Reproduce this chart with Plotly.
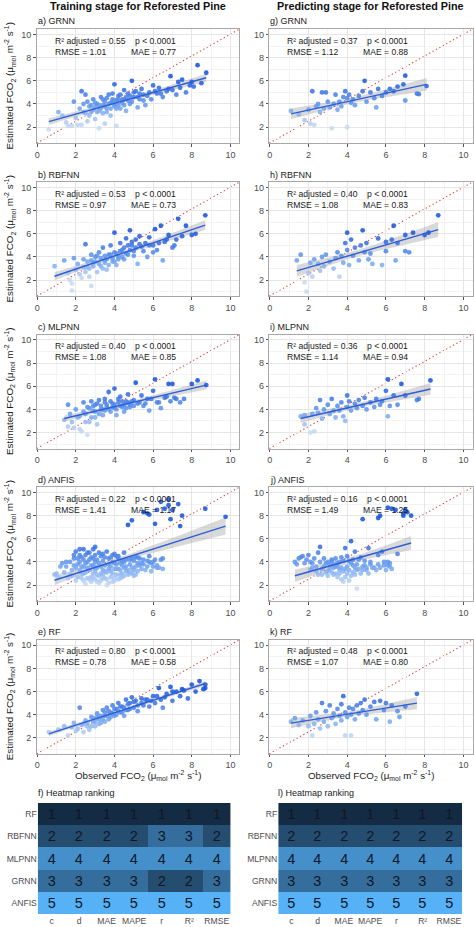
import numpy as np
import plotly.graph_objects as go

# ---------------- DATA ----------------
models = ["GRNN", "RBFNN", "MLPNN", "ANFIS", "RF"]
train_letters = ["a", "b", "c", "d", "e"]
pred_letters = ["g", "h", "i", "j", "k"]

# Observed (x) / Estimated (y) values
grnn_train_x = [0.6,1.1,1.3,1.5,1.6,1.8,1.9,2.0,2.1,2.2,2.3,2.3,2.4,2.5,2.6,2.7,2.8,2.9,3.0,3.0,3.1,3.2,3.2,3.3,3.4,3.5,3.5,3.6,3.7,3.8,3.8,3.9,4.0,4.0,4.1,4.1,4.2,4.3,4.4,4.5,4.5,4.6,4.7,4.8,4.9,5.0,5.1,5.2,5.3,5.4,5.5,5.6,5.8,5.9,6.0,6.2,6.3,6.5,6.7,6.9,7.0,7.2,7.3,7.5,7.7,7.9,8.1,8.3,8.5,8.75]
grnn_train_y = [1.8,3.3,3.0,2.4,2.1,2.1,4.2,2.8,2.2,3.6,5.1,2.2,3.3,4.8,2.5,3.8,3.3,4.4,3.7,2.7,4.0,1.9,3.4,4.6,3.9,2.3,4.2,3.6,4.8,4.1,3.0,4.4,5.7,3.8,2.1,4.3,4.7,3.6,4.1,5.2,4.4,3.4,4.9,4.0,6.0,4.6,5.1,3.7,4.4,5.3,4.8,3.9,5.0,4.4,5.6,4.9,5.4,4.6,5.1,6.4,5.2,4.8,5.9,6.1,5.0,5.6,5.5,7.35,5.8,6.7]
grnn_train_more = [(2.4,4.0),(2.5,3.2),(2.6,4.2),(2.7,3.0),(2.8,3.9),(2.9,3.5),(3.0,4.1),(3.1,3.3),(3.2,3.9),(3.3,3.6),(3.4,4.4),(3.4,3.2),(3.5,3.8),(3.6,4.5),(3.6,3.3),(3.7,4.0),(3.8,3.6),(3.9,4.2),(3.9,4.9),(4.0,4.0),(4.1,3.6),(4.2,4.4),(4.2,3.9),(4.3,4.8),(4.4,4.4),(4.5,3.9),(4.6,4.6),(4.7,4.3),(4.8,4.7),(4.9,4.2),(5.0,5.0),(5.2,4.6),(5.3,4.9),(5.5,4.3),(5.7,4.7),(6.1,5.1),(6.4,4.9),(6.8,5.3),(7.4,5.4),(8.0,5.9)]

grnn_pred_x = [1.1,1.5,1.8,2.0,2.1,2.2,2.3,2.4,2.5,2.6,2.7,2.8,2.9,3.0,3.1,3.2,3.3,3.4,3.5,3.6,3.7,3.8,3.9,4.0,4.0,4.1,4.2,4.3,4.4,4.6,4.8,4.9,5.0,5.2,5.4,5.5,5.6,5.8,6.0,6.2,6.4,6.6,6.9,7.0,7.0,7.6,7.7,8.1]
grnn_pred_y = [3.4,3.1,2.6,3.5,2.3,5.1,2.2,3.8,4.0,3.3,5.0,3.6,5.0,4.2,3.7,1.9,4.0,4.8,3.5,4.2,3.8,4.6,5.1,4.5,2.0,4.8,4.1,4.4,3.9,4.7,5.1,6.0,4.2,5.0,4.5,3.7,5.3,4.7,5.0,5.3,5.1,5.5,5.7,6.45,4.3,4.9,4.85,5.55]
grnn_pred_more = []

rbf_train_x = [0.9,1.4,1.6,1.7,1.8,1.8,1.9,2.0,2.1,2.2,2.3,2.4,2.5,2.6,2.7,2.8,2.8,2.9,3.0,3.1,3.2,3.3,3.4,3.5,3.6,3.7,3.8,3.9,4.0,4.0,4.1,4.2,4.3,4.4,4.5,4.6,4.7,4.8,4.9,5.0,5.1,5.2,5.3,5.4,5.6,5.7,5.8,6.0,6.1,6.2,6.4,6.5,6.6,6.8,7.0,7.2,7.3,7.5,7.7,8.0,8.2,8.7]
rbf_train_y = [3.2,3.7,2.6,2.0,1.7,1.1,3.9,2.9,3.4,2.5,2.2,3.8,5.1,3.1,2.3,1.5,4.2,3.5,4.0,2.7,4.4,3.2,4.8,3.7,2.9,4.2,5.0,3.6,6.1,4.4,3.3,4.0,5.2,4.6,3.8,5.6,4.2,6.3,5.0,4.5,5.5,3.4,5.8,4.9,5.2,4.0,5.7,5.0,6.4,4.6,6.7,3.7,5.3,5.9,4.8,5.5,7.3,5.8,6.7,5.9,6.0,7.6]
rbf_train_more = [(2.4,3.1),(2.5,2.7),(2.6,3.6),(2.7,3.0),(2.8,3.7),(2.9,3.2),(3.0,3.6),(3.1,4.1),(3.2,3.4),(3.3,3.9),(3.4,3.0),(3.5,4.1),(3.5,3.5),(3.6,3.8),(3.7,3.3),(3.8,4.2),(3.9,3.9),(4.0,3.6),(4.1,4.3),(4.2,3.8),(4.3,4.5),(4.4,4.0),(4.5,4.8),(4.6,4.3),(4.7,5.0),(4.8,4.6),(4.9,5.3),(5.0,4.1),(5.1,4.8),(5.3,5.1),(5.5,4.5),(5.8,5.0),(6.0,4.4),(6.3,5.2),(6.7,5.5),(7.1,5.0)]

rbf_pred_x = [1.4,1.6,1.8,1.9,2.0,2.1,2.2,2.3,2.5,2.6,2.7,2.8,2.9,3.1,3.3,3.4,3.5,3.6,3.7,3.8,3.9,4.0,4.0,4.1,4.2,4.3,4.4,4.6,4.7,4.8,4.9,5.0,5.1,5.2,5.3,5.6,5.8,6.0,6.0,6.3,6.4,6.5,6.6,7.0,7.0,7.2,7.4,8.0,8.2,8.7]
rbf_pred_y = [3.7,4.2,1.8,1.0,2.6,3.5,2.3,3.8,3.4,2.8,4.0,3.2,4.2,3.6,3.0,3.9,4.4,2.3,4.1,3.5,5.2,6.1,4.6,3.3,5.5,4.1,4.8,3.7,5.0,6.3,4.4,5.2,3.8,4.3,3.4,5.6,3.3,4.5,5.3,5.5,6.7,3.7,5.2,4.5,5.9,4.4,6.1,5.9,6.1,7.6]
rbf_pred_more = []

mlp_train_x = [1.4,1.6,1.6,1.7,1.8,1.9,2.0,2.1,2.2,2.3,2.4,2.5,2.6,2.6,2.7,2.8,2.9,3.0,3.0,3.1,3.2,3.3,3.4,3.5,3.6,3.7,3.8,3.9,4.0,4.0,4.1,4.2,4.3,4.4,4.5,4.6,4.7,4.8,5.0,5.1,5.2,5.4,5.5,5.7,5.8,6.0,6.1,6.2,6.4,6.6,6.8,6.9,7.0,7.2,7.4,7.6,8.0,8.3,8.75]
mlp_train_y = [3.1,4.4,2.5,3.6,2.9,2.4,4.0,3.3,2.3,2.1,4.6,3.6,1.8,4.2,2.9,4.7,3.9,3.3,4.4,2.7,4.8,4.0,3.5,4.6,4.2,5.5,3.8,4.5,5.8,4.1,3.5,4.6,5.1,4.2,3.8,4.7,5.3,4.4,4.8,6.3,4.5,5.2,4.3,4.9,3.9,5.6,6.6,4.6,4.1,5.0,6.2,4.7,6.2,4.9,4.6,4.9,6.2,6.5,6.1]
mlp_train_more = [(2.2,3.4),(2.4,3.8),(2.5,2.9),(2.7,4.1),(2.8,3.3),(2.9,4.3),(3.0,3.8),(3.1,4.5),(3.2,3.6),(3.3,4.3),(3.4,4.0),(3.5,3.9),(3.5,4.9),(3.6,4.4),(3.7,4.0),(3.8,4.7),(3.9,4.2),(4.0,4.4),(4.1,4.0),(4.2,4.9),(4.3,4.3),(4.4,4.7),(4.5,4.4),(4.6,4.1),(4.7,4.6),(4.8,4.2),(4.9,4.7),(5.0,4.3),(5.3,4.6),(5.6,4.5),(5.9,4.9),(6.3,4.6),(6.7,5.1),(7.1,5.0)]

mlp_pred_x = [1.6,1.8,1.8,2.1,2.3,2.2,2.4,2.5,2.6,2.7,2.8,3.0,3.1,3.2,3.3,3.4,3.5,3.6,3.7,3.8,3.9,4.0,4.0,4.1,4.2,4.4,4.5,4.6,4.8,4.9,5.0,5.2,5.4,5.5,5.7,5.8,6.0,6.1,6.1,6.2,6.4,6.6,6.8,7.0,7.6,7.7,8.3]
mlp_pred_y = [3.4,3.5,2.7,2.0,2.1,3.6,4.1,3.7,4.8,3.2,4.0,4.4,3.6,4.9,3.9,3.3,4.3,3.9,4.6,3.4,3.0,5.2,4.2,4.7,3.9,4.5,4.1,4.8,4.3,5.0,4.0,4.6,4.2,4.9,4.4,4.7,5.6,6.6,3.4,4.3,5.2,4.4,6.2,5.2,4.8,4.9,6.5]
mlp_pred_more = []

anfis_train_x = [4.7,4.9,5.5,5.7,5.8,6.1,6.2,6.4,6.6,6.8,6.8,6.9,7.0,7.3,7.4,7.5,8.7,9.75,
                 0.9,1.2,1.5,1.6,1.8,1.9,2.0,2.1,2.2,2.3,2.4,2.5,2.6,2.7,2.8,2.9,3.0,3.0,3.1,3.2,3.3,3.4,3.5,3.6,3.7,3.8,3.9,4.0,4.0,4.1,4.2,4.3,4.4,4.5,4.6,4.8,4.9,5.0,5.1,5.2,5.4,5.5,5.7,5.8,5.9,6.0,6.2,6.4,6.5]
anfis_train_y = [7.2,7.6,8.3,8.2,8.1,7.3,8.5,9.2,8.6,8.9,9.4,7.7,8.5,9.0,7.1,8.0,8.6,7.9,
                 2.9,3.6,4.0,2.6,3.3,4.3,2.4,3.8,4.6,3.0,5.1,2.1,3.5,4.2,2.7,5.1,3.2,4.0,2.3,4.8,3.6,2.9,4.4,2.0,3.8,3.2,4.6,2.6,3.9,3.4,4.3,2.9,3.7,4.8,3.2,4.2,3.5,2.8,4.4,3.9,3.4,4.2,3.6,4.5,3.2,4.0,3.7,4.2,3.4]
anfis_train_more = [(1.0,3.0),(1.1,2.7),(1.3,3.9),(1.4,3.1),(1.5,3.6),(1.7,4.0),(1.7,2.9),(1.8,2.8),(1.9,3.7),(1.9,4.6),
    (2.0,3.5),(2.0,4.9),(2.1,2.7),(2.1,4.3),(2.2,3.3),(2.2,4.0),(2.2,5.1),(2.3,4.4),(2.3,3.6),(2.3,2.6),(2.4,3.6),(2.4,2.4),(2.4,4.2),(2.4,3.0),
    (2.5,4.6),(2.5,3.1),(2.5,3.9),(2.6,2.6),(2.6,4.0),(2.6,4.8),(2.7,3.3),(2.7,4.8),(2.7,2.5),(2.8,3.7),(2.8,2.3),(2.8,4.4),(2.9,4.3),(2.9,3.0),(2.9,2.6),(2.9,3.7),
    (3.0,2.5),(3.0,4.6),(3.0,5.3),(3.0,3.5),(3.1,3.5),(3.1,4.2),(3.1,2.9),(3.2,2.8),(3.2,3.9),(3.2,2.2),(3.3,4.5),(3.3,2.4),(3.3,3.0),(3.4,3.3),(3.4,4.1),(3.4,2.6),(3.4,4.7),
    (3.5,2.6),(3.5,3.7),(3.5,3.2),(3.6,4.9),(3.6,3.1),(3.6,2.5),(3.7,2.2),(3.7,4.3),(3.7,3.4),(3.8,3.6),(3.8,2.7),(3.8,4.4),(3.9,4.0),(3.9,3.0),(3.9,2.3),
    (4.0,4.7),(4.0,2.4),(4.0,3.4),(4.1,3.8),(4.1,2.9),(4.1,4.5),(4.2,3.4),(4.2,4.5),(4.2,2.5),(4.3,3.9),(4.3,2.6),(4.3,3.3),(4.4,4.1),(4.4,3.0),(4.4,2.7),
    (4.5,3.5),(4.5,2.8),(4.5,4.0),(4.6,4.2),(4.6,3.6),(4.7,3.3),(4.7,2.9),(4.8,3.8),(4.8,3.1),(4.9,3.0),(4.9,4.3),
    (5.0,4.1),(5.0,3.3),(5.1,3.6),(5.1,2.9),(5.2,3.2),(5.2,4.4),(5.3,4.3),(5.3,3.7),(5.4,3.9),
    (5.5,3.8),(5.6,3.3),(5.7,4.1),(5.8,4.0),(5.9,3.9),(6.0,3.6),(6.1,4.2),(6.2,3.5),(6.3,3.5),(6.5,4.3)]

anfis_pred_x = [4.8,5.6,5.7,6.1,6.3,6.5,6.9,6.9,7.0,7.1,7.3,
                1.4,1.6,1.7,1.9,2.1,2.2,2.4,2.5,2.6,2.7,2.8,3.0,3.1,3.2,3.3,3.4,3.5,3.6,3.7,3.8,3.9,4.0,4.1,4.2,4.2,4.3,4.4,4.5,4.5,4.6,4.8,4.9,5.0,5.1,5.2,5.4,5.6,5.8,5.9,6.1,6.2,6.6]
anfis_pred_y = [7.7,7.8,8.0,8.7,8.6,8.5,8.0,8.2,8.5,8.3,8.0,
                3.8,4.4,4.5,4.2,3.3,3.9,3.2,4.8,5.3,2.9,3.6,3.2,3.8,4.1,3.5,3.0,3.9,3.3,4.4,2.3,5.2,3.6,4.1,5.8,2.8,3.7,4.9,1.7,3.3,4.2,3.6,4.1,3.3,5.2,3.8,3.5,4.6,4.9,3.7,4.0,3.6,4.7]
anfis_pred_more = [(1.3,4.0),(1.5,4.3),(1.8,3.9),(2.0,4.6),(2.1,4.0),(2.2,3.5),(2.3,4.3),(2.4,3.6),(2.5,2.9),(2.6,4.0),(2.7,3.4),(2.8,4.3),(2.9,3.1),(2.9,3.9),(3.0,4.0),(3.0,2.8),(3.1,3.4),(3.2,3.1),(3.2,4.2),(3.3,3.8),(3.3,2.9),(3.4,4.3),(3.4,3.6),(3.5,2.7),(3.5,3.6),(3.6,4.0),(3.6,3.0),(3.7,3.5),(3.7,2.5),(3.8,4.1),(3.8,3.2),(3.9,3.4),(3.9,2.7),(4.0,4.5),(4.0,3.0),(4.1,3.3),(4.1,2.4),(4.2,3.9),(4.3,3.1),(4.3,4.2),(4.4,3.5),(4.4,2.9),(4.5,3.8),(4.6,3.4),(4.7,3.0),(4.7,4.4),(4.8,3.3),(4.9,3.7),(5.0,3.5),(5.1,3.0),(5.2,4.0),(5.3,3.5),(5.5,3.3),(5.6,3.8),(5.7,3.5),(5.9,4.0),(6.0,3.3),(6.1,3.7),(6.2,3.9),(6.3,3.4)]

rf_train_x = [0.6,1.1,1.4,1.6,1.8,1.9,2.0,2.2,2.3,2.4,2.5,2.6,2.7,2.8,2.9,3.0,3.1,3.2,3.3,3.4,3.5,3.6,3.7,3.8,3.9,4.0,4.1,4.2,4.3,4.4,4.5,4.6,4.7,4.8,4.9,5.0,5.1,5.2,5.4,5.5,5.7,5.8,6.0,6.1,6.3,6.4,6.5,6.7,6.9,7.0,7.2,7.4,7.6,7.8,8.0,8.2,8.4,8.6,8.7,8.7]
rf_train_y = [2.5,2.7,3.0,2.2,2.9,3.3,2.6,4.6,3.1,2.5,3.5,3.0,2.7,3.8,3.4,3.0,4.1,3.6,3.3,4.4,3.9,4.6,3.6,4.2,4.8,3.9,4.5,5.0,4.2,4.7,3.9,5.3,4.4,5.0,5.5,4.6,5.2,4.3,5.4,4.8,5.3,4.7,5.6,5.0,6.3,5.3,4.6,5.8,6.4,5.2,6.0,5.6,6.1,5.4,6.6,6.0,6.9,6.2,6.3,6.6]
rf_train_more = [(2.1,2.8),(2.4,3.2),(2.6,3.3),(2.8,3.0),(2.9,3.7),(3.0,3.4),(3.1,3.8),(3.2,3.2),(3.3,3.9),(3.4,3.6),(3.5,4.2),(3.5,3.4),(3.6,3.9),(3.7,4.3),(3.8,3.8),(3.9,4.1),(4.0,4.5),(4.1,4.0),(4.2,4.3),(4.3,4.7),(4.4,4.2),(4.5,4.6),(4.6,4.4),(4.7,4.9),(4.8,4.5),(5.0,5.1),(5.2,4.8),(5.4,5.0),(5.6,5.3),(5.9,5.2),(6.2,5.6),(6.6,5.5),(7.0,6.0),(7.5,6.2)]

rf_pred_x = [1.1,1.3,1.5,1.7,2.0,2.1,2.2,2.3,2.4,2.5,2.6,2.7,2.8,2.9,3.0,3.1,3.2,3.3,3.4,3.5,3.6,3.7,3.7,3.8,3.9,3.9,4.0,4.1,4.2,4.2,4.3,4.4,4.5,4.6,4.7,4.8,4.9,5.0,5.2,5.4,5.5,5.7,5.9,6.0,6.2,6.3,6.6,6.7,7.0,7.6]
rf_pred_y = [3.4,3.7,3.1,3.5,3.0,3.9,2.2,3.2,4.2,3.6,2.8,5.0,3.4,4.3,3.0,4.8,3.7,4.1,3.2,4.5,3.9,4.9,3.5,5.6,4.2,2.2,3.8,4.6,2.2,4.0,4.5,3.6,4.8,4.1,5.0,4.4,5.3,4.0,4.7,5.1,3.6,5.2,4.4,5.0,3.4,4.8,4.3,3.8,4.7,5.8]
rf_pred_more = []

train_x = [grnn_train_x, rbf_train_x, mlp_train_x, anfis_train_x, rf_train_x]
train_y = [grnn_train_y, rbf_train_y, mlp_train_y, anfis_train_y, rf_train_y]
train_more = [grnn_train_more, rbf_train_more, mlp_train_more, anfis_train_more, rf_train_more]
pred_x = [grnn_pred_x, rbf_pred_x, mlp_pred_x, anfis_pred_x, rf_pred_x]
pred_y = [grnn_pred_y, rbf_pred_y, mlp_pred_y, anfis_pred_y, rf_pred_y]
pred_more = [grnn_pred_more, rbf_pred_more, mlp_pred_more, anfis_pred_more, rf_pred_more]

train_r2 = ["0.55", "0.53", "0.40", "0.22", "0.80"]
train_rmse = ["1.01", "0.97", "1.08", "1.41", "0.78"]
train_mae = ["0.77", "0.73", "0.85", "1.17", "0.58"]
pred_r2 = ["0.37", "0.40", "0.36", "0.16", "0.48"]
pred_rmse = ["1.12", "1.08", "1.14", "1.49", "1.07"]
pred_mae = ["0.88", "0.83", "0.94", "1.25", "0.80"]

heat_metrics = ["c", "d", "MAE", "MAPE", "r", "R²", "RMSE"]
heat_models = ["RF", "RBFNN", "MLPNN", "GRNN", "ANFIS"]
heat_train = [[1, 1, 1, 1, 1, 1, 1],
              [2, 2, 2, 2, 3, 3, 2],
              [4, 4, 4, 4, 4, 4, 4],
              [3, 3, 3, 3, 2, 2, 3],
              [5, 5, 5, 5, 5, 5, 5]]
heat_pred = [[1, 1, 1, 1, 1, 1, 1],
             [2, 2, 2, 2, 2, 2, 2],
             [4, 4, 4, 4, 4, 4, 4],
             [3, 3, 3, 3, 3, 3, 3],
             [5, 5, 5, 5, 5, 5, 5]]

# ---------------- LAYOUT HELPERS ----------------
W, H = 474, 927
FONT = "Liberation Sans, Arial, sans-serif"
LEFT = (35, 239)
RIGHT = (269, 473.5)
ROW_TOPS = [29.1, 182.1, 334.5, 487.1, 639.8]
PANEL_H = 114
XR = [-0.02, 10.47]
YR = [0.62, 10.47]

def px(x):
    return x / W

def py(y):
    return 1 - y / H

fig = go.Figure()
layout = dict(width=W, height=H, margin=dict(l=0, r=0, t=0, b=0),
              paper_bgcolor="white", plot_bgcolor="white", showlegend=False,
              font=dict(family=FONT, color="#333333"))
annotations = []
shapes = []

colorscale = [[0, "#c6daf6"], [0.4, "#6a9ff0"], [1, "#1450dc"]]

def add_panel(idx, col, row, xs, ys, more, letter, model, r2, rmse, mae):
    ax = "" if idx == 1 else str(idx)
    xa, ya = "x" + ax, "y" + ax
    xd = LEFT if col == 0 else RIGHT
    top = ROW_TOPS[row]
    axis_common = dict(
        showgrid=True, gridcolor="#e6e6e6", gridwidth=0.7,
        minor=dict(dtick=1, tick0=0, showgrid=True, gridcolor="#f3f3f3", gridwidth=0.5),
        showline=True, mirror=True, linecolor="#a8a8a8", linewidth=1.2,
        ticks="outside", ticklen=2.5, tickcolor="#555555", tickwidth=0.8,
        tickfont=dict(size=9, color="#4d4d4d", family=FONT), zeroline=False)
    layout["xaxis" + ax] = dict(domain=[px(xd[0]), px(xd[1])], range=XR, anchor=ya,
                                tickvals=[0, 2, 4, 6, 8, 10], **axis_common)
    layout["yaxis" + ax] = dict(domain=[py(top + PANEL_H), py(top)], range=YR, anchor=xa,
                                tickvals=[2, 4, 6, 8, 10], **axis_common)

    x = np.array(list(xs) + [p[0] for p in more], float)
    y = np.array(list(ys) + [p[1] for p in more], float)
    # linear fit with 95% confidence band (like geom_smooth(method="lm"))
    b, a = np.polyfit(x, y, 1)
    n = len(x)
    resid = y - (a + b * x)
    s = np.sqrt(np.sum(resid ** 2) / (n - 2))
    sxx = np.sum((x - x.mean()) ** 2)
    gx = np.linspace(x.min(), x.max(), 80)
    gy = a + b * gx
    se = s * np.sqrt(1 / n + (gx - x.mean()) ** 2 / sxx)
    t = 1.98
    fig.add_trace(go.Scatter(x=np.concatenate([gx, gx[::-1]]),
                             y=np.concatenate([gy + t * se, (gy - t * se)[::-1]]),
                             fill="toself", fillcolor="rgba(150,150,150,0.36)",
                             line=dict(width=0), mode="lines", hoverinfo="skip",
                             xaxis=xa, yaxis=ya))
    fig.add_trace(go.Scatter(x=x, y=y, mode="markers", xaxis=xa, yaxis=ya,
                             marker=dict(size=4.8, color=y, colorscale=colorscale,
                                         cmin=2.0, cmax=6.2, opacity=0.85,
                                         line=dict(width=0))))
    fig.add_trace(go.Scatter(x=gx, y=gy, mode="lines", xaxis=xa, yaxis=ya,
                             line=dict(color="#2d5fd8", width=1.4)))
    # 1:1 dotted reference across the panel
    shapes.append(dict(type="line", xref=xa + " domain", yref=ya + " domain",
                       x0=0, y0=0, x1=1, y1=1, layer="below",
                       line=dict(color="#e0473d", width=1.1, dash="1.3px,2.6px")))
    fs = 8.6
    annotations.extend([
        dict(x=0.8, y=9.47, xref=xa, yref=ya, xanchor="left", yanchor="middle",
             text=f"R² adjusted = {r2}", showarrow=False, font=dict(size=fs, color="#1a1a1a")),
        dict(x=6.1, y=9.47, xref=xa, yref=ya, xanchor="center", yanchor="middle",
             text="p < 0.0001", showarrow=False, font=dict(size=fs, color="#1a1a1a")),
        dict(x=0.8, y=8.52, xref=xa, yref=ya, xanchor="left", yanchor="middle",
             text=f"RMSE = {rmse}", showarrow=False, font=dict(size=fs, color="#1a1a1a")),
        dict(x=6.0, y=8.52, xref=xa, yref=ya, xanchor="center", yanchor="middle",
             text=f"MAE = {mae}", showarrow=False, font=dict(size=fs, color="#1a1a1a")),
        dict(x=px(xd[0] - 1), y=py(top - 7.6), xref="paper", yref="paper",
             xanchor="left", yanchor="middle", text=f"{letter}) {model}",
             showarrow=False, font=dict(size=9, color="#1a1a1a")),
    ])
    if col == 0:
        annotations.append(dict(
            x=px(7.5), y=py(top + PANEL_H / 2 - 1), xref="paper", yref="paper",
            xanchor="center", yanchor="middle", textangle=-90, showarrow=False,
            text="Estimated FCO<sub>2</sub> (μ<sub>mol</sub> m<sup>-2</sup> s<sup>-1</sup>)",
            font=dict(size=9.8, color="#1a1a1a")))

idx = 1
for r in range(5):
    add_panel(idx, 0, r, train_x[r], train_y[r], train_more[r], train_letters[r], models[r],
              train_r2[r], train_rmse[r], train_mae[r])
    idx += 1
    add_panel(idx, 1, r, pred_x[r], pred_y[r], pred_more[r], pred_letters[r], models[r],
              pred_r2[r], pred_rmse[r], pred_mae[r])
    idx += 1

# x-axis titles under bottom panels
for cx in [(LEFT[0] + LEFT[1]) / 2, (RIGHT[0] + RIGHT[1]) / 2]:
    annotations.append(dict(
        x=px(cx), y=py(775.5), xref="paper", yref="paper", xanchor="center", yanchor="middle",
        text="Observed FCO<sub>2</sub> (μ<sub>mol</sub> m<sup>-2</sup> s<sup>-1</sup>)",
        showarrow=False, font=dict(size=9.8, color="#1a1a1a")))

# column titles
annotations.append(dict(x=px(137), y=py(5.5), xref="paper", yref="paper", xanchor="center",
                        yanchor="middle", text="<b>Training stage for Reforested Pine</b>",
                        showarrow=False, font=dict(size=10.8, color="#111111")))
annotations.append(dict(x=px(371), y=py(5.5), xref="paper", yref="paper", xanchor="center",
                        yanchor="middle", text="<b>Predicting stage for Reforested Pine</b>",
                        showarrow=False, font=dict(size=10.8, color="#111111")))

# ---------------- HEATMAPS ----------------
HEAT_Y = (803, 914)
heat_cols = [((36, 230), heat_train, "f"), ((278, 463), heat_pred, "l")]
rows_bottom_up = heat_models[::-1]
for (hx, z, letter) in heat_cols:
    ax = str(idx)
    xa, ya = "x" + ax, "y" + ax
    z_bottom_up = z[::-1]
    fig.add_trace(go.Heatmap(
        z=z_bottom_up, x=heat_metrics, y=rows_bottom_up, xaxis=xa, yaxis=ya,
        colorscale=[[0, "#132B43"], [1, "#56B1F7"]], zmin=1, zmax=5, showscale=False,
        text=[[str(v) for v in row] for row in z_bottom_up], texttemplate="%{text}",
        textfont=dict(size=14.5, color="#0e1826", family=FONT),
        xgap=0, ygap=0, hoverinfo="skip"))
    layout["xaxis" + ax] = dict(domain=[px(hx[0]), px(hx[1])], anchor=ya,
                                showgrid=False, zeroline=False, showline=False, ticks="",
                                tickfont=dict(size=8.6, color="#4d4d4d"))
    layout["yaxis" + ax] = dict(domain=[py(HEAT_Y[1]), py(HEAT_Y[0])], anchor=xa,
                                showgrid=False, zeroline=False, showline=False, ticks="",
                                tickfont=dict(size=8.6, color="#4d4d4d"))
    annotations.append(dict(x=px(hx[0] - 2), y=py(793), xref="paper", yref="paper",
                            xanchor="left", yanchor="middle", text=f"{letter}) Heatmap ranking",
                            showarrow=False, font=dict(size=9, color="#1a1a1a")))
    idx += 1

layout["annotations"] = annotations
layout["shapes"] = shapes
fig.update_layout(**layout)
fig.write_html("out.html")
